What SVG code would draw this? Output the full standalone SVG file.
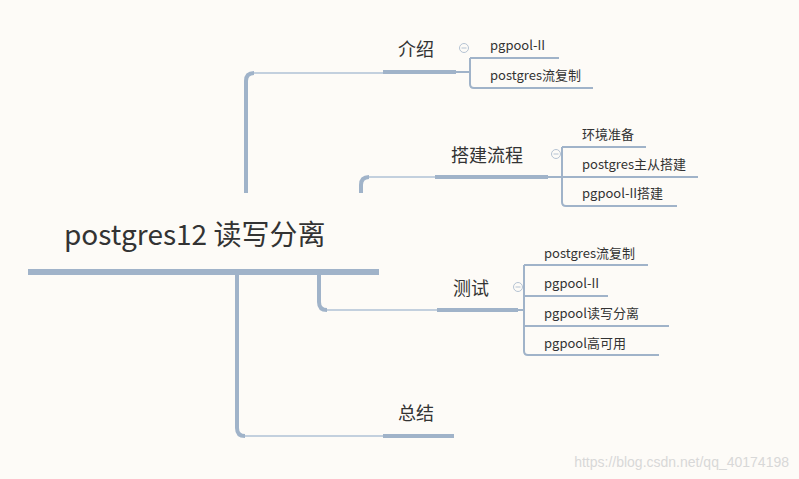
<svg xmlns="http://www.w3.org/2000/svg" width="799" height="479" viewBox="0 0 799 479">
<style>
text{font-family:"Noto Sans CJK SC","Microsoft YaHei",sans-serif;fill:#333}
.main{fill:none;stroke:#a0b3c9;stroke-width:4}
.thin{fill:none;stroke:#c3d0de;stroke-width:2}
.thick{fill:none;stroke:#a0b3c9;stroke-width:4}
.sub{fill:none;stroke:#a0b3c9;stroke-width:2}
.t1{font-size:18px}
.t2{font-size:13px}
.c{fill:none;stroke:#b5c3d3;stroke-width:1}
</style>
<rect width="799" height="479" fill="#fdfbf7"/>
<g id="connectors">
<path class="main" d="M246 193 V81 Q246 73 254 73"/>
<path class="thin" d="M254 73 H383"/>
<path class="main" d="M361 193 V185 Q361 177 369 177"/>
<path class="thin" d="M369 177 H435"/>
<path class="main" d="M319 272 V302 Q319 310 327 310"/>
<path class="thin" d="M327 310 H437"/>
<path class="main" d="M237 272 V428 Q237 436 245 436"/>
<path class="thin" d="M245 436 H383"/>
<path class="sub" d="M456 72 H470 M470 58 V84 Q470 88 474 88 M548 177 H562 M562 147 V202 Q562 206 566 206 M518 310 H524 M524 265 V351 Q524 355 528 355"/>
</g>
<g id="root"><path d="M28 272 H379" stroke="#a0b3c9" stroke-width="6"/><text x="64" y="245" font-size="28">postgres12 读写分离</text></g>
<g id="n1"><path class="thick" d="M383 72 H456"/><text class="t1" x="398" y="56">介绍</text><circle class="c" cx="464" cy="48" r="4.5"/><path d="M461.5 48 H466.5" stroke="#b5c3d3"/></g>
<g id="n1a"><path class="sub" d="M470 58 H559"/><text class="t2" x="490" y="50">pgpool-II</text></g>
<g id="n1b"><path class="sub" d="M474 88 H593"/><text class="t2" x="490" y="80">postgres流复制</text></g>
<g id="n2"><path class="thick" d="M435 177 H548"/><text class="t1" x="451" y="162">搭建流程</text><circle class="c" cx="556" cy="154" r="4.5"/><path d="M553.5 154 H558.5" stroke="#b5c3d3"/></g>
<g id="n2a"><path class="sub" d="M562 147 H646"/><text class="t2" x="582" y="139">环境准备</text></g>
<g id="n2b"><path class="sub" d="M562 177 H698"/><text class="t2" x="582" y="169">postgres主从搭建</text></g>
<g id="n2c"><path class="sub" d="M566 206 H677"/><text class="t2" x="582" y="198">pgpool-II搭建</text></g>
<g id="n3"><path class="thick" d="M437 310 H518"/><text class="t1" x="453" y="295">测试</text><circle class="c" cx="518" cy="287" r="4.5"/><path d="M515.5 287 H520.5" stroke="#b5c3d3"/></g>
<g id="n3a"><path class="sub" d="M524 265 H648"/><text class="t2" x="544" y="258">postgres流复制</text></g>
<g id="n3b"><path class="sub" d="M524 296 H608"/><text class="t2" x="544" y="288">pgpool-II</text></g>
<g id="n3c"><path class="sub" d="M524 326 H669"/><text class="t2" x="544" y="318">pgpool读写分离</text></g>
<g id="n3d"><path class="sub" d="M528 355 H659"/><text class="t2" x="544" y="348">pgpool高可用</text></g>
<g id="n4"><path class="thick" d="M383 436 H454"/><text class="t1" x="398" y="420">总结</text></g>
<text x="789" y="467" font-size="14" text-anchor="end" style="fill:#d8d8d8;font-family:'Liberation Sans',sans-serif">https://blog.csdn.net/qq_40174198</text>
</svg>
